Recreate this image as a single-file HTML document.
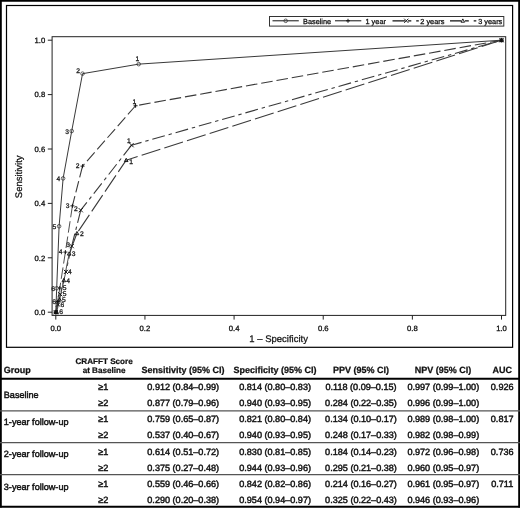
<!DOCTYPE html>
<html lang="en"><head><meta charset="utf-8"><title>CRAFFT ROC curves</title>
<style>
html,body{margin:0;padding:0;background:#fff;}
body{width:520px;height:509px;overflow:hidden;font-family:"Liberation Sans",Arial,sans-serif;}
svg{display:block;}
text{font-family:"Liberation Sans",Arial,sans-serif;fill:#111;text-rendering:geometricPrecision;}
.tk{font-size:7.7px;stroke:#111;stroke-width:0.3;}
.lg{font-size:7.35px;stroke:#111;stroke-width:0.28;}
.pl{font-size:6.7px;fill:#222;stroke:#222;stroke-width:0.3;}
.ax{font-size:9.5px;stroke:#111;stroke-width:0.25;}
.th{font-size:9px;font-weight:bold;stroke:#111;stroke-width:0.25;}
.th2{font-size:8.15px;font-weight:bold;stroke:#111;stroke-width:0.22;}
.td{font-size:9.1px;stroke:#111;stroke-width:0.44;}
</style></head><body>
<svg width="520" height="509" viewBox="0 0 520 509">
<rect x="0" y="0" width="520" height="509" fill="#fff"/>

<path d="M0.9 507.6V0.9H519.1V507.6" fill="none" stroke="#000" stroke-width="1.8"/>
<path d="M0 506.7H520" fill="none" stroke="#000" stroke-width="1.9"/>
<rect x="6.5" y="5.5" width="506.1" height="341.8" fill="none" stroke="#000" stroke-width="1.2"/>
<rect x="52.1" y="36.7" width="453.6" height="278.7" fill="none" stroke="#222" stroke-width="1"/>
<path d="M47.8 312.20H52.1" stroke="#222" stroke-width="1"/>
<text class="tk" x="45.2" y="315.00" text-anchor="end">0.0</text>
<path d="M55.80 315.4V319.6" stroke="#222" stroke-width="1"/>
<text class="tk" x="55.80" y="330.5" text-anchor="middle">0.0</text>
<path d="M47.8 257.80H52.1" stroke="#222" stroke-width="1"/>
<text class="tk" x="45.2" y="260.60" text-anchor="end">0.2</text>
<path d="M144.94 315.4V319.6" stroke="#222" stroke-width="1"/>
<text class="tk" x="144.94" y="330.5" text-anchor="middle">0.2</text>
<path d="M47.8 203.40H52.1" stroke="#222" stroke-width="1"/>
<text class="tk" x="45.2" y="206.20" text-anchor="end">0.4</text>
<path d="M234.08 315.4V319.6" stroke="#222" stroke-width="1"/>
<text class="tk" x="234.08" y="330.5" text-anchor="middle">0.4</text>
<path d="M47.8 149.00H52.1" stroke="#222" stroke-width="1"/>
<text class="tk" x="45.2" y="151.80" text-anchor="end">0.6</text>
<path d="M323.22 315.4V319.6" stroke="#222" stroke-width="1"/>
<text class="tk" x="323.22" y="330.5" text-anchor="middle">0.6</text>
<path d="M47.8 94.60H52.1" stroke="#222" stroke-width="1"/>
<text class="tk" x="45.2" y="97.40" text-anchor="end">0.8</text>
<path d="M412.36 315.4V319.6" stroke="#222" stroke-width="1"/>
<text class="tk" x="412.36" y="330.5" text-anchor="middle">0.8</text>
<path d="M47.8 40.20H52.1" stroke="#222" stroke-width="1"/>
<text class="tk" x="45.2" y="43.00" text-anchor="end">1.0</text>
<path d="M501.50 315.4V319.6" stroke="#222" stroke-width="1"/>
<text class="tk" x="501.50" y="330.5" text-anchor="middle">1.0</text>
<text class="ax" x="278.6" y="341.6" text-anchor="middle">1 – Specificity</text>
<text class="ax" transform="translate(21.6 176.8) rotate(-90)" text-anchor="middle">Sensitivity</text>
<path d="M501.50 40.20 L138.70 64.14 L82.54 73.66 L71.71 131.05 L63.11 178.38 L59.10 226.25 L56.69 288.26 L55.80 312.20" fill="none" stroke="#222" stroke-width="0.9"/>
<g fill="none" stroke="#3a3a3a" stroke-width="1.1" stroke-dasharray="11.6 3.9">
<path d="M501.50 40.20L135.58 105.75"/>
<path d="M135.58 105.75L82.54 166.14"/>
<path d="M82.54 166.14L72.42 205.85"/>
<path d="M72.42 205.85L65.38 252.09" stroke-width="0.9"/>
<path d="M65.38 252.09L59.81 287.99" stroke-width="0.9"/>
<path d="M59.81 287.99L57.58 301.59" stroke-width="0.9"/>
<path d="M57.58 301.59L55.80 312.20" stroke-width="0.9"/>
</g>
<g fill="none" stroke="#3a3a3a" stroke-width="1.1" stroke-dasharray="13 3.9 3.4 3.9">
<path d="M501.50 40.20L131.57 145.19" stroke-dashoffset="13"/>
<path d="M131.57 145.19L80.76 210.20"/>
<path d="M80.76 210.20L71.71 246.10"/>
<path d="M71.71 246.10L65.92 271.94" stroke-width="0.9"/>
<path d="M65.92 271.94L60.26 294.25" stroke-width="0.9"/>
<path d="M60.26 294.25L58.03 304.58" stroke-width="0.9"/>
<path d="M58.03 304.58L55.80 312.20" stroke-width="0.9"/>
</g>
<g fill="none" stroke="#3a3a3a" stroke-width="1.1" stroke-dasharray="19.6 4.2">
<path d="M501.50 40.20L126.22 160.15" stroke-dashoffset="-1.2"/>
<path d="M126.22 160.15L76.97 233.32" stroke-dashoffset="5.4"/>
<path d="M76.97 233.32L69.17 253.72"/>
<path d="M69.17 253.72L63.82 280.38" stroke-width="0.9"/>
<path d="M63.82 280.38L59.59 299.69" stroke-width="0.9"/>
<path d="M59.59 299.69L56.69 312.20" stroke-width="0.9"/>
<path d="M56.69 312.20L55.80 312.20" stroke-width="0.9"/>
</g>
<circle cx="501.50" cy="40.20" r="1.8" fill="none" stroke="#333" stroke-width="0.75"/>
<circle cx="138.70" cy="64.14" r="1.8" fill="none" stroke="#333" stroke-width="0.75"/>
<text class="pl" x="137.30" y="60.64" text-anchor="middle">1</text>
<circle cx="82.54" cy="73.66" r="1.8" fill="none" stroke="#333" stroke-width="0.75"/>
<text class="pl" x="79.94" y="73.16" text-anchor="end">2</text>
<circle cx="71.71" cy="131.05" r="1.8" fill="none" stroke="#333" stroke-width="0.75"/>
<text class="pl" x="68.91" y="133.55" text-anchor="end">3</text>
<circle cx="63.11" cy="178.38" r="1.8" fill="none" stroke="#333" stroke-width="0.75"/>
<text class="pl" x="60.31" y="180.88" text-anchor="end">4</text>
<circle cx="59.10" cy="226.25" r="1.8" fill="none" stroke="#333" stroke-width="0.75"/>
<text class="pl" x="56.30" y="228.75" text-anchor="end">5</text>
<circle cx="56.69" cy="288.26" r="1.8" fill="none" stroke="#333" stroke-width="0.75"/>
<text class="pl" x="54.99" y="290.76" text-anchor="end">6</text>
<circle cx="55.80" cy="312.20" r="1.8" fill="none" stroke="#333" stroke-width="0.75"/>
<path d="M499.50 40.20H503.50M501.50 38.20V42.20" stroke="#111" stroke-width="0.95" fill="none"/>
<path d="M133.58 105.75H137.58M135.58 103.75V107.75" stroke="#111" stroke-width="0.95" fill="none"/>
<text class="pl" x="134.28" y="104.45" text-anchor="middle">1</text>
<path d="M80.54 166.14H84.54M82.54 164.14V168.14" stroke="#111" stroke-width="0.95" fill="none"/>
<text class="pl" x="79.54" y="168.14" text-anchor="end">2</text>
<path d="M70.42 205.85H74.42M72.42 203.85V207.85" stroke="#111" stroke-width="0.95" fill="none"/>
<text class="pl" x="69.42" y="207.85" text-anchor="end">3</text>
<path d="M63.38 252.09H67.38M65.38 250.09V254.09" stroke="#111" stroke-width="0.95" fill="none"/>
<text class="pl" x="62.38" y="254.09" text-anchor="end">4</text>
<path d="M57.81 287.99H61.81M59.81 285.99V289.99" stroke="#111" stroke-width="0.95" fill="none"/>
<text class="pl" x="62.81" y="289.99" text-anchor="start">5</text>
<path d="M55.58 301.59H59.58M57.58 299.59V303.59" stroke="#111" stroke-width="0.95" fill="none"/>
<text class="pl" x="56.08" y="303.59" text-anchor="end">6</text>
<path d="M53.80 312.20H57.80M55.80 310.20V314.20" stroke="#111" stroke-width="0.95" fill="none"/>
<path d="M499.40 38.10L503.60 42.30M499.40 42.30L503.60 38.10" stroke="#111" stroke-width="0.95" fill="none"/>
<path d="M129.47 143.09L133.67 147.29M129.47 147.29L133.67 143.09" stroke="#111" stroke-width="0.95" fill="none"/>
<text class="pl" x="128.97" y="142.89" text-anchor="middle">1</text>
<path d="M78.66 208.10L82.86 212.30M78.66 212.30L82.86 208.10" stroke="#111" stroke-width="0.95" fill="none"/>
<text class="pl" x="77.76" y="211.20" text-anchor="end">2</text>
<path d="M69.61 244.00L73.81 248.20M69.61 248.20L73.81 244.00" stroke="#111" stroke-width="0.95" fill="none"/>
<text class="pl" x="69.91" y="246.60" text-anchor="end">3</text>
<path d="M63.82 269.84L68.02 274.04M63.82 274.04L68.02 269.84" stroke="#111" stroke-width="0.95" fill="none"/>
<text class="pl" x="67.92" y="273.94" text-anchor="start">4</text>
<path d="M58.16 292.15L62.36 296.35M58.16 296.35L62.36 292.15" stroke="#111" stroke-width="0.95" fill="none"/>
<text class="pl" x="62.76" y="296.25" text-anchor="start">5</text>
<path d="M55.93 302.48L60.13 306.68M55.93 306.68L60.13 302.48" stroke="#111" stroke-width="0.95" fill="none"/>
<text class="pl" x="60.53" y="306.58" text-anchor="start">6</text>
<path d="M53.70 310.10L57.90 314.30M53.70 314.30L57.90 310.10" stroke="#111" stroke-width="0.95" fill="none"/>
<path d="M499.70 41.60L501.50 38.30L503.30 41.60Z" stroke="#111" stroke-width="0.95" fill="none"/>
<path d="M124.42 161.55L126.22 158.25L128.02 161.55Z" stroke="#111" stroke-width="0.95" fill="none"/>
<text class="pl" x="129.22" y="164.15" text-anchor="start">1</text>
<path d="M75.17 234.72L76.97 231.42L78.77 234.72Z" stroke="#111" stroke-width="0.95" fill="none"/>
<text class="pl" x="79.97" y="235.82" text-anchor="start">2</text>
<path d="M67.37 255.12L69.17 251.82L70.97 255.12Z" stroke="#111" stroke-width="0.95" fill="none"/>
<text class="pl" x="71.67" y="256.22" text-anchor="start">3</text>
<path d="M62.02 281.78L63.82 278.48L65.62 281.78Z" stroke="#111" stroke-width="0.95" fill="none"/>
<text class="pl" x="66.32" y="282.88" text-anchor="start">4</text>
<path d="M57.79 301.09L59.59 297.79L61.39 301.09Z" stroke="#111" stroke-width="0.95" fill="none"/>
<text class="pl" x="62.09" y="301.69" text-anchor="start">5</text>
<path d="M54.89 313.60L56.69 310.30L58.49 313.60Z" stroke="#111" stroke-width="0.95" fill="none"/>
<text class="pl" x="59.19" y="314.20" text-anchor="start">6</text>
<path d="M54.00 313.60L55.80 310.30L57.60 313.60Z" stroke="#111" stroke-width="0.95" fill="none"/>
<rect x="269.5" y="16.5" width="234.3" height="9.6" fill="#fff" stroke="#333" stroke-width="1"/>
<path d="M272.5 20.8H298.8" stroke="#111" stroke-width="1"/><circle cx="285.70" cy="20.80" r="1.8" fill="none" stroke="#333" stroke-width="0.75"/>
<text class="lg" x="303" y="23.8">Baseline</text>
<path d="M335 20.8H361.3" stroke="#111" stroke-width="1"/><path d="M346.00 20.80H350.00M348.00 18.80V22.80" stroke="#111" stroke-width="0.95" fill="none"/>
<text class="lg" x="365.5" y="23.8">1 year</text>
<path d="M392.5 20.8H405M408 20.8H411.3M416.2 20.8H418.8" stroke="#111" stroke-width="1.2"/><path d="M404.20 18.70L408.40 22.90M404.20 22.90L408.40 18.70" stroke="#111" stroke-width="0.95" fill="none"/>
<text class="lg" x="420.3" y="23.8">2 years</text>
<path d="M450 20.8H461M465 20.8H468.8M473.7 20.8H476.3" stroke="#111" stroke-width="1.2"/><path d="M461.00 22.20L462.80 18.90L464.60 22.20Z" stroke="#111" stroke-width="0.95" fill="none"/>
<text class="lg" x="478.2" y="23.8">3 years</text>
<path d="M0 378.8H520" stroke="#000" stroke-width="1.9"/>
<path d="M0 410.9H520" stroke="#555" stroke-width="1.3"/>
<path d="M0 442.7H520" stroke="#555" stroke-width="1.3"/>
<path d="M0 474.6H520" stroke="#555" stroke-width="1.3"/>
<text class="th" x="3.8" y="372.9">Group</text>
<text class="th2" x="104.1" y="363.7" text-anchor="middle">CRAFFT Score</text>
<text class="th2" x="104.1" y="373" text-anchor="middle">at Baseline</text>
<text class="th" x="183" y="372.9" text-anchor="middle">Sensitivity (95% CI)</text>
<text class="th" x="275" y="372.9" text-anchor="middle">Specificity (95% CI)</text>
<text class="th" x="361" y="372.9" text-anchor="middle">PPV (95% CI)</text>
<text class="th" x="443" y="372.9" text-anchor="middle">NPV (95% CI)</text>
<text class="th" x="502.3" y="372.9" text-anchor="middle">AUC</text>
<text class="td" x="3.8" y="398.4">Baseline</text>
<text class="td" x="103.3" y="390.2" text-anchor="middle">≥1</text>
<text class="td" x="183.2" y="390.2" text-anchor="middle">0.912 (0.84–0.99)</text>
<text class="td" x="275.1" y="390.2" text-anchor="middle">0.814 (0.80–0.83)</text>
<text class="td" x="361" y="390.2" text-anchor="middle">0.118 (0.09–0.15)</text>
<text class="td" x="443.3" y="390.2" text-anchor="middle">0.997 (0.99–1.00)</text>
<text class="td" x="502.2" y="390.2" text-anchor="middle">0.926</text>
<text class="td" x="103.3" y="406.1" text-anchor="middle">≥2</text>
<text class="td" x="183.2" y="406.1" text-anchor="middle">0.877 (0.79–0.96)</text>
<text class="td" x="275.1" y="406.1" text-anchor="middle">0.940 (0.93–0.95)</text>
<text class="td" x="361" y="406.1" text-anchor="middle">0.284 (0.22–0.35)</text>
<text class="td" x="443.3" y="406.1" text-anchor="middle">0.996 (0.99–1.00)</text>
<text class="td" x="3.8" y="425.3">1-year follow-up</text>
<text class="td" x="103.3" y="422.4" text-anchor="middle">≥1</text>
<text class="td" x="183.2" y="422.4" text-anchor="middle">0.759 (0.65–0.87)</text>
<text class="td" x="275.1" y="422.4" text-anchor="middle">0.821 (0.80–0.84)</text>
<text class="td" x="361" y="422.4" text-anchor="middle">0.134 (0.10–0.17)</text>
<text class="td" x="443.3" y="422.4" text-anchor="middle">0.989 (0.98–1.00)</text>
<text class="td" x="502.2" y="422.4" text-anchor="middle">0.817</text>
<text class="td" x="103.3" y="438.4" text-anchor="middle">≥2</text>
<text class="td" x="183.2" y="438.4" text-anchor="middle">0.537 (0.40–0.67)</text>
<text class="td" x="275.1" y="438.4" text-anchor="middle">0.940 (0.93–0.95)</text>
<text class="td" x="361" y="438.4" text-anchor="middle">0.248 (0.17–0.33)</text>
<text class="td" x="443.3" y="438.4" text-anchor="middle">0.982 (0.98–0.99)</text>
<text class="td" x="3.8" y="457.4">2-year follow-up</text>
<text class="td" x="103.3" y="455.0" text-anchor="middle">≥1</text>
<text class="td" x="183.2" y="455.0" text-anchor="middle">0.614 (0.51–0.72)</text>
<text class="td" x="275.1" y="455.0" text-anchor="middle">0.830 (0.81–0.85)</text>
<text class="td" x="361" y="455.0" text-anchor="middle">0.184 (0.14–0.23)</text>
<text class="td" x="443.3" y="455.0" text-anchor="middle">0.972 (0.96–0.98)</text>
<text class="td" x="502.2" y="455.0" text-anchor="middle">0.736</text>
<text class="td" x="103.3" y="470.6" text-anchor="middle">≥2</text>
<text class="td" x="183.2" y="470.6" text-anchor="middle">0.375 (0.27–0.48)</text>
<text class="td" x="275.1" y="470.6" text-anchor="middle">0.944 (0.93–0.96)</text>
<text class="td" x="361" y="470.6" text-anchor="middle">0.295 (0.21–0.38)</text>
<text class="td" x="443.3" y="470.6" text-anchor="middle">0.960 (0.95–0.97)</text>
<text class="td" x="3.8" y="489.8">3-year follow-up</text>
<text class="td" x="103.3" y="487.2" text-anchor="middle">≥1</text>
<text class="td" x="183.2" y="487.2" text-anchor="middle">0.559 (0.46–0.66)</text>
<text class="td" x="275.1" y="487.2" text-anchor="middle">0.842 (0.82–0.86)</text>
<text class="td" x="361" y="487.2" text-anchor="middle">0.214 (0.16–0.27)</text>
<text class="td" x="443.3" y="487.2" text-anchor="middle">0.961 (0.95–0.97)</text>
<text class="td" x="502.2" y="487.2" text-anchor="middle">0.711</text>
<text class="td" x="103.3" y="502.7" text-anchor="middle">≥2</text>
<text class="td" x="183.2" y="502.7" text-anchor="middle">0.290 (0.20–0.38)</text>
<text class="td" x="275.1" y="502.7" text-anchor="middle">0.954 (0.94–0.97)</text>
<text class="td" x="361" y="502.7" text-anchor="middle">0.325 (0.22–0.43)</text>
<text class="td" x="443.3" y="502.7" text-anchor="middle">0.946 (0.93–0.96)</text>
</svg></body></html>
